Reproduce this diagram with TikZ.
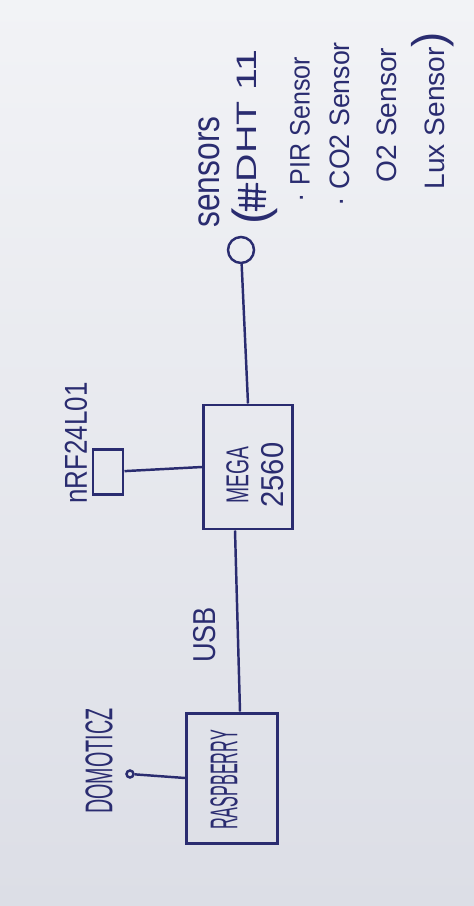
\documentclass[tikz,border=0pt]{standalone}
\usepackage{fontspec}
\setmainfont{Liberation Sans}
\usepackage{graphicx}
\definecolor{ink}{RGB}{42,44,112}
\definecolor{paperhi}{RGB}{242,243,246}
\definecolor{paperlo}{RGB}{220,222,230}
\newcommand{\hw}[2]{\scalebox{#1}[1]{#2}}
\tikzset{
  pen/.style={draw=ink, line width=0.7pt},
  unit/.style={pen, line width=0.85pt, rectangle, inner sep=0pt},
  plug/.style={pen, circle, inner sep=0pt},
  hand/.style={text=ink, inner sep=0pt, rotate=90, font=\fontsize{9}{10}\selectfont},
  listline/.style={hand, anchor=west, font=\fontsize{8}{10}\selectfont}
}
\begin{document}
\begin{tikzpicture}[x=0.1mm, y=-0.1mm]
\shade[top color=paperhi, bottom color=paperlo] (0,0) rectangle (474,906);
\useasboundingbox (0,0) rectangle (474,906);

% boxes and plugs
\node[unit, minimum width=9.1mm, minimum height=13mm] (rasp) at (232,778) {};
\node[unit, minimum width=8.9mm, minimum height=12.4mm] (mega) at (248,467) {};
\node[unit, minimum width=3mm, minimum height=4.5mm] (nrf) at (108,472) {};
\node[plug, minimum size=2.6mm] (sens) at (241,250) {};
\node[plug, minimum size=0.7mm] (dom) at (130,774) {};

% labels
\node[hand, font=\fontsize{11}{12}\selectfont] (rasptext) at (224,780) {\hw{.42}{RASPBERRY}};
\node[hand, align=center] (megatext) at (255,475) {\hw{.61}{MEGA}\\\hw{.92}{2560}};
\node[hand, font=\fontsize{11}{12}\selectfont] (domtext) at (99,761) {\hw{.51}{DOMOTICZ}};
\node[hand] (usbtext) at (205,635) {\hw{.86}{USB}};
\node[hand] (nrftext) at (76,443) {\hw{.82}{nRF24L01}};
\node[hand, font=\fontsize{11}{13}\selectfont] (senstext) at (209,172) {\hw{.82}{sensors}};

% sensor list
\node[hand, font=\fontsize{14}{14}\selectfont] (lparen) at (255,216) {(};
\draw[pen] (238,190) -- (266,192) (238,198) -- (266,199) (239,205) -- (265,206)
           (247,183) -- (246,211) (257,183) -- (256,211);
\node[listline] (dht) at (247,183) {\hw{1.4}{DHT 11}};
\node[listline] (pir) at (300,203) {· \hw{.89}{PIR Sensor}};
\node[listline] (co2) at (340,207) {· \hw{.95}{CO2 Sensor}};
\node[listline] (o2) at (387,183) {O2 Sensor};
\node[listline] (lux) at (433,190) {Lux Sensor{\fontsize{13}{13}\selectfont)}};

% wires
\draw[pen] (rasp.west) -- (dom);
\draw[pen] ([xshift=-1.3mm]mega.south) -- ([xshift=0.8mm]rasp.north);
\draw[pen] (mega.north) -- (sens);
\draw[pen] (nrf) -- (mega.west);
\end{tikzpicture}
\end{document}
